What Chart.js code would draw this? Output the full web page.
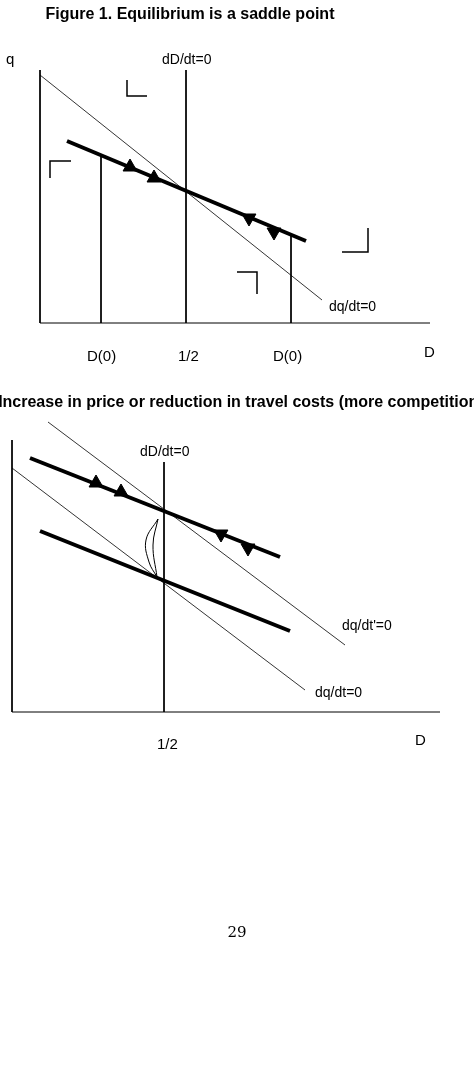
<!DOCTYPE html>
<html><head><meta charset="utf-8">
<script src="https://cdn.jsdelivr.net/npm/chart.js@4/dist/chart.umd.min.js"></script>
<style>html,body{margin:0;padding:0;background:#fff;overflow:hidden}#wrap{position:relative;width:474px;height:1070px}</style>
</head><body><div id="wrap"><canvas id="c"></canvas></div>
<script>
// Diagram coordinates (page units, y downward)
const axes1 = [[40,70],[40,323],[430,323]];
const dqdt1 = [[40,75],[322,300]];
const dDdt1 = [[186,70],[186,323]];
const saddle1 = [[67,141],[306,241]];
const drop1a = [[101,155],[101,323]];
const drop1b = [[291,236],[291,323]];
const up1 = [[130,167],[154,178]];
const down1 = [[249,218],[274,232]];
const corners1 = [
  [[127,80],[127,96],[147,96]],
  [[50,178],[50,161],[71,161]],
  [[237,272],[257,272],[257,294]],
  [[342,252],[368,252],[368,228]]
];
const axes2 = [[12,440],[12,712],[440,712]];
const dDdt2 = [[164,462],[164,712]];
const dqdt2 = [[12,468],[305,690]];
const dqdt2p = [[48,422],[345,645]];
const saddle2new = [[30,458],[280,557]];
const saddle2old = [[40,531],[290,631]];
const up2 = [[96,483],[121,492]];
const down2 = [[221,534],[248,548]];
const curveA = [[158,519],[146,540],[149,562],[157,577]];
const curveB = [[158,519],[153,545],[157,577]];
const labels = [
  ["Figure 1. Equilibrium is a saddle point",190,15,"bold 16px 'Liberation Sans', Arial","center"],
  ["q",6,60,"15px 'Liberation Sans', Arial","left"],
  ["dD/dt=0",162,60,"14px 'Liberation Sans', Arial","left"],
  ["dq/dt=0",329,307,"14px 'Liberation Sans', Arial","left"],
  ["D(0)",87,357,"15px 'Liberation Sans', Arial","left"],
  ["1/2",178,357,"15px 'Liberation Sans', Arial","left"],
  ["D(0)",273,357,"15px 'Liberation Sans', Arial","left"],
  ["D",424,353,"15px 'Liberation Sans', Arial","left"],
  ["Figure 2. Increase in price or reduction in travel costs (more competition)",-73,403,"bold 16px 'Liberation Sans', Arial","left"],
  ["dD/dt=0",140,452,"14px 'Liberation Sans', Arial","left"],
  ["dq/dt'=0",342,626,"14px 'Liberation Sans', Arial","left"],
  ["dq/dt=0",315,693,"14px 'Liberation Sans', Arial","left"],
  ["1/2",157,745,"15px 'Liberation Sans', Arial","left"],
  ["D",415,741,"15px 'Liberation Sans', Arial","left"],
  ["29",237,933,"15px 'DejaVu Serif', serif","center"]
];
const P = a => a.map(p=>({x:p[0],y:p[1]}));
function ln(pts,w,t){return {type:'line',data:P(pts),borderColor:'#000',borderWidth:w,pointRadius:0,tension:t||0,fill:false,clip:false};}
function tri(pts,rot){return {type:'scatter',data:P(pts),pointStyle:'triangle',rotation:rot,pointRadius:8,backgroundColor:'#000',borderColor:'#000',borderWidth:1,clip:false};}
const ds = [ln(axes1,1),ln(dqdt1,0.8),ln(dDdt1,1),ln(saddle1,4),ln(drop1a,1),ln(drop1b,1),tri(up1,0),tri(down1,180),
  ...corners1.map(c=>ln(c,1.5)),
  ln(axes2,1),ln(dDdt2,1),ln(dqdt2,0.8),ln(dqdt2p,0.8),ln(saddle2new,4),ln(saddle2old,4),tri(up2,0),tri(down2,180),
  ln(curveA,1,0.4),ln(curveB,1,0.4)];
const textPlugin={id:'txt',afterDraw(ch){const c=ch.ctx,xs=ch.scales.x,ys=ch.scales.y;c.save();c.fillStyle='#000';c.textBaseline='middle';
  labels.forEach(l=>{c.font=l[3];c.textAlign=l[4];c.fillText(l[0],xs.getPixelForValue(l[1]),ys.getPixelForValue(l[2]));});c.restore();}};
new Chart(document.getElementById('c'),{type:'line',data:{datasets:ds},plugins:[textPlugin],
 options:{responsive:true,maintainAspectRatio:false,animation:false,layout:{padding:0,autoPadding:false},
  plugins:{legend:{display:false},tooltip:{enabled:false}},
  scales:{x:{type:'linear',min:0,max:474,display:false},y:{type:'linear',min:0,max:1070,reverse:true,display:false}}}});
</script></body></html>
